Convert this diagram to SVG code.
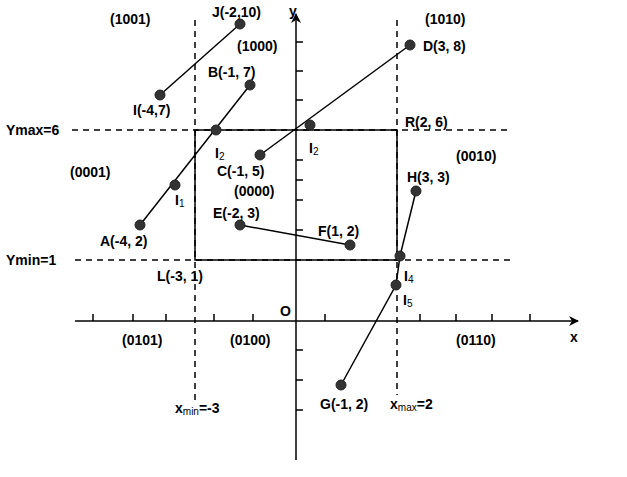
<svg xmlns="http://www.w3.org/2000/svg" width="627" height="477" viewBox="0 0 627 477">
<style>
text{font-family:"Liberation Sans",Arial,sans-serif;font-size:14px;font-weight:bold;fill:#000}
.s{font-size:10px;font-weight:normal}
.d{stroke:#000;stroke-width:1.5;stroke-dasharray:6,5;fill:none}
.l{stroke:#000;stroke-width:1.5;fill:none}
.p{fill:#333;stroke:#222}
</style>
<defs><marker id="a" markerWidth="10" markerHeight="10" refX="9" refY="5" orient="auto" markerUnits="userSpaceOnUse"><path d="M0,0 L10,5 L0,10 L3,5z" fill="#000"/></marker></defs>
<rect width="627" height="477" fill="#fff"/>
<g id="axes">
<line class="l" x1="75" y1="321" x2="578" y2="321" marker-end="url(#a)"/>
<line class="l" x1="296" y1="460" x2="296" y2="14" marker-end="url(#a)"/>
<path class="l" d="M93 321v-7M133 321v-7M166 321v-7M214 321v-7M253 321v-7M325 321v-7M420 321v-7M456 321v-7M492 321v-7M530 321v-7"/>
<path class="l" d="M296 42h7M296 71h7M296 100h7M296 160h7M296 180h7M296 200h7M296 230h7M296 350h7M296 380h7M296 410h7"/>
</g>
<g id="window">
<line class="d" x1="72" y1="130" x2="510" y2="130"/>
<line class="d" x1="75" y1="260" x2="515" y2="260"/>
<line class="d" x1="195" y1="20" x2="195" y2="400"/>
<line class="d" x1="397" y1="20" x2="397" y2="395"/>
<rect x="195" y="130" width="202" height="130" class="l"/>
</g>
<g id="connectors">
<line class="l" x1="160" y1="95" x2="240" y2="24"/>
<line class="l" x1="140" y1="225" x2="250" y2="85"/>
<line class="l" x1="260" y1="155" x2="410" y2="45"/>
<line class="l" x1="240" y1="225" x2="350" y2="245"/>
<polyline class="l" points="416,191 400,256 396,285 341,385"/>
</g>
<g id="points">
<circle class="p" cx="240" cy="24" r="5"/><circle class="p" cx="160" cy="95" r="5"/>
<circle class="p" cx="250" cy="85" r="5"/><circle class="p" cx="140" cy="225" r="5"/>
<circle class="p" cx="175" cy="185" r="5"/><circle class="p" cx="216" cy="130" r="5"/>
<circle class="p" cx="260" cy="155" r="5"/><circle class="p" cx="410" cy="45" r="5"/>
<circle class="p" cx="310" cy="125" r="5"/><circle class="p" cx="240" cy="225" r="5"/>
<circle class="p" cx="350" cy="245" r="5"/><circle class="p" cx="416" cy="191" r="5"/>
<circle class="p" cx="341" cy="385" r="5"/><circle class="p" cx="400" cy="256" r="5"/>
<circle class="p" cx="396" cy="285" r="5"/>
</g>
<g id="labels">
<text x="212" y="17">J(-2,10)</text>
<text x="289" y="16">y</text>
<text x="110" y="24">(1001)</text>
<text x="237" y="51">(1000)</text>
<text x="425" y="24">(1010)</text>
<text x="423" y="51">D(3, 8)</text>
<text x="208" y="77">B(-1, 7)</text>
<text x="133" y="115">I(-4,7)</text>
<text x="6" y="135">Ymax=6</text>
<text x="405" y="127">R(2, 6)</text>
<text x="215" y="158">I<tspan class="s" dy="2">2</tspan></text>
<text x="309" y="153">I<tspan class="s" dy="2">2</tspan></text>
<text x="70" y="177">(0001)</text>
<text x="217" y="176">C(-1, 5)</text>
<text x="456" y="161">(0010)</text>
<text x="234" y="196">(0000)</text>
<text x="407" y="182">H(3, 3)</text>
<text x="175" y="205">I<tspan class="s" dy="2">1</tspan></text>
<text x="213" y="218">E(-2, 3)</text>
<text x="318" y="236">F(1, 2)</text>
<text x="100" y="246">A(-4, 2)</text>
<text x="6" y="265">Ymin=1</text>
<text x="157" y="281">L(-3, 1)</text>
<text x="404" y="281">I<tspan class="s" dy="2">4</tspan></text>
<text x="403" y="305">I<tspan class="s" dy="2">5</tspan></text>
<text x="280" y="316">O</text>
<text x="122" y="345">(0101)</text>
<text x="230" y="345">(0100)</text>
<text x="456" y="345">(0110)</text>
<text x="570" y="342">x</text>
<text x="175" y="413">x<tspan class="s" dy="2">min</tspan><tspan dy="-2">=-3</tspan></text>
<text x="320" y="409">G(-1, 2)</text>
<text x="390" y="409">x<tspan class="s" dy="2">max</tspan><tspan dy="-2">=2</tspan></text>
</g>
</svg>
